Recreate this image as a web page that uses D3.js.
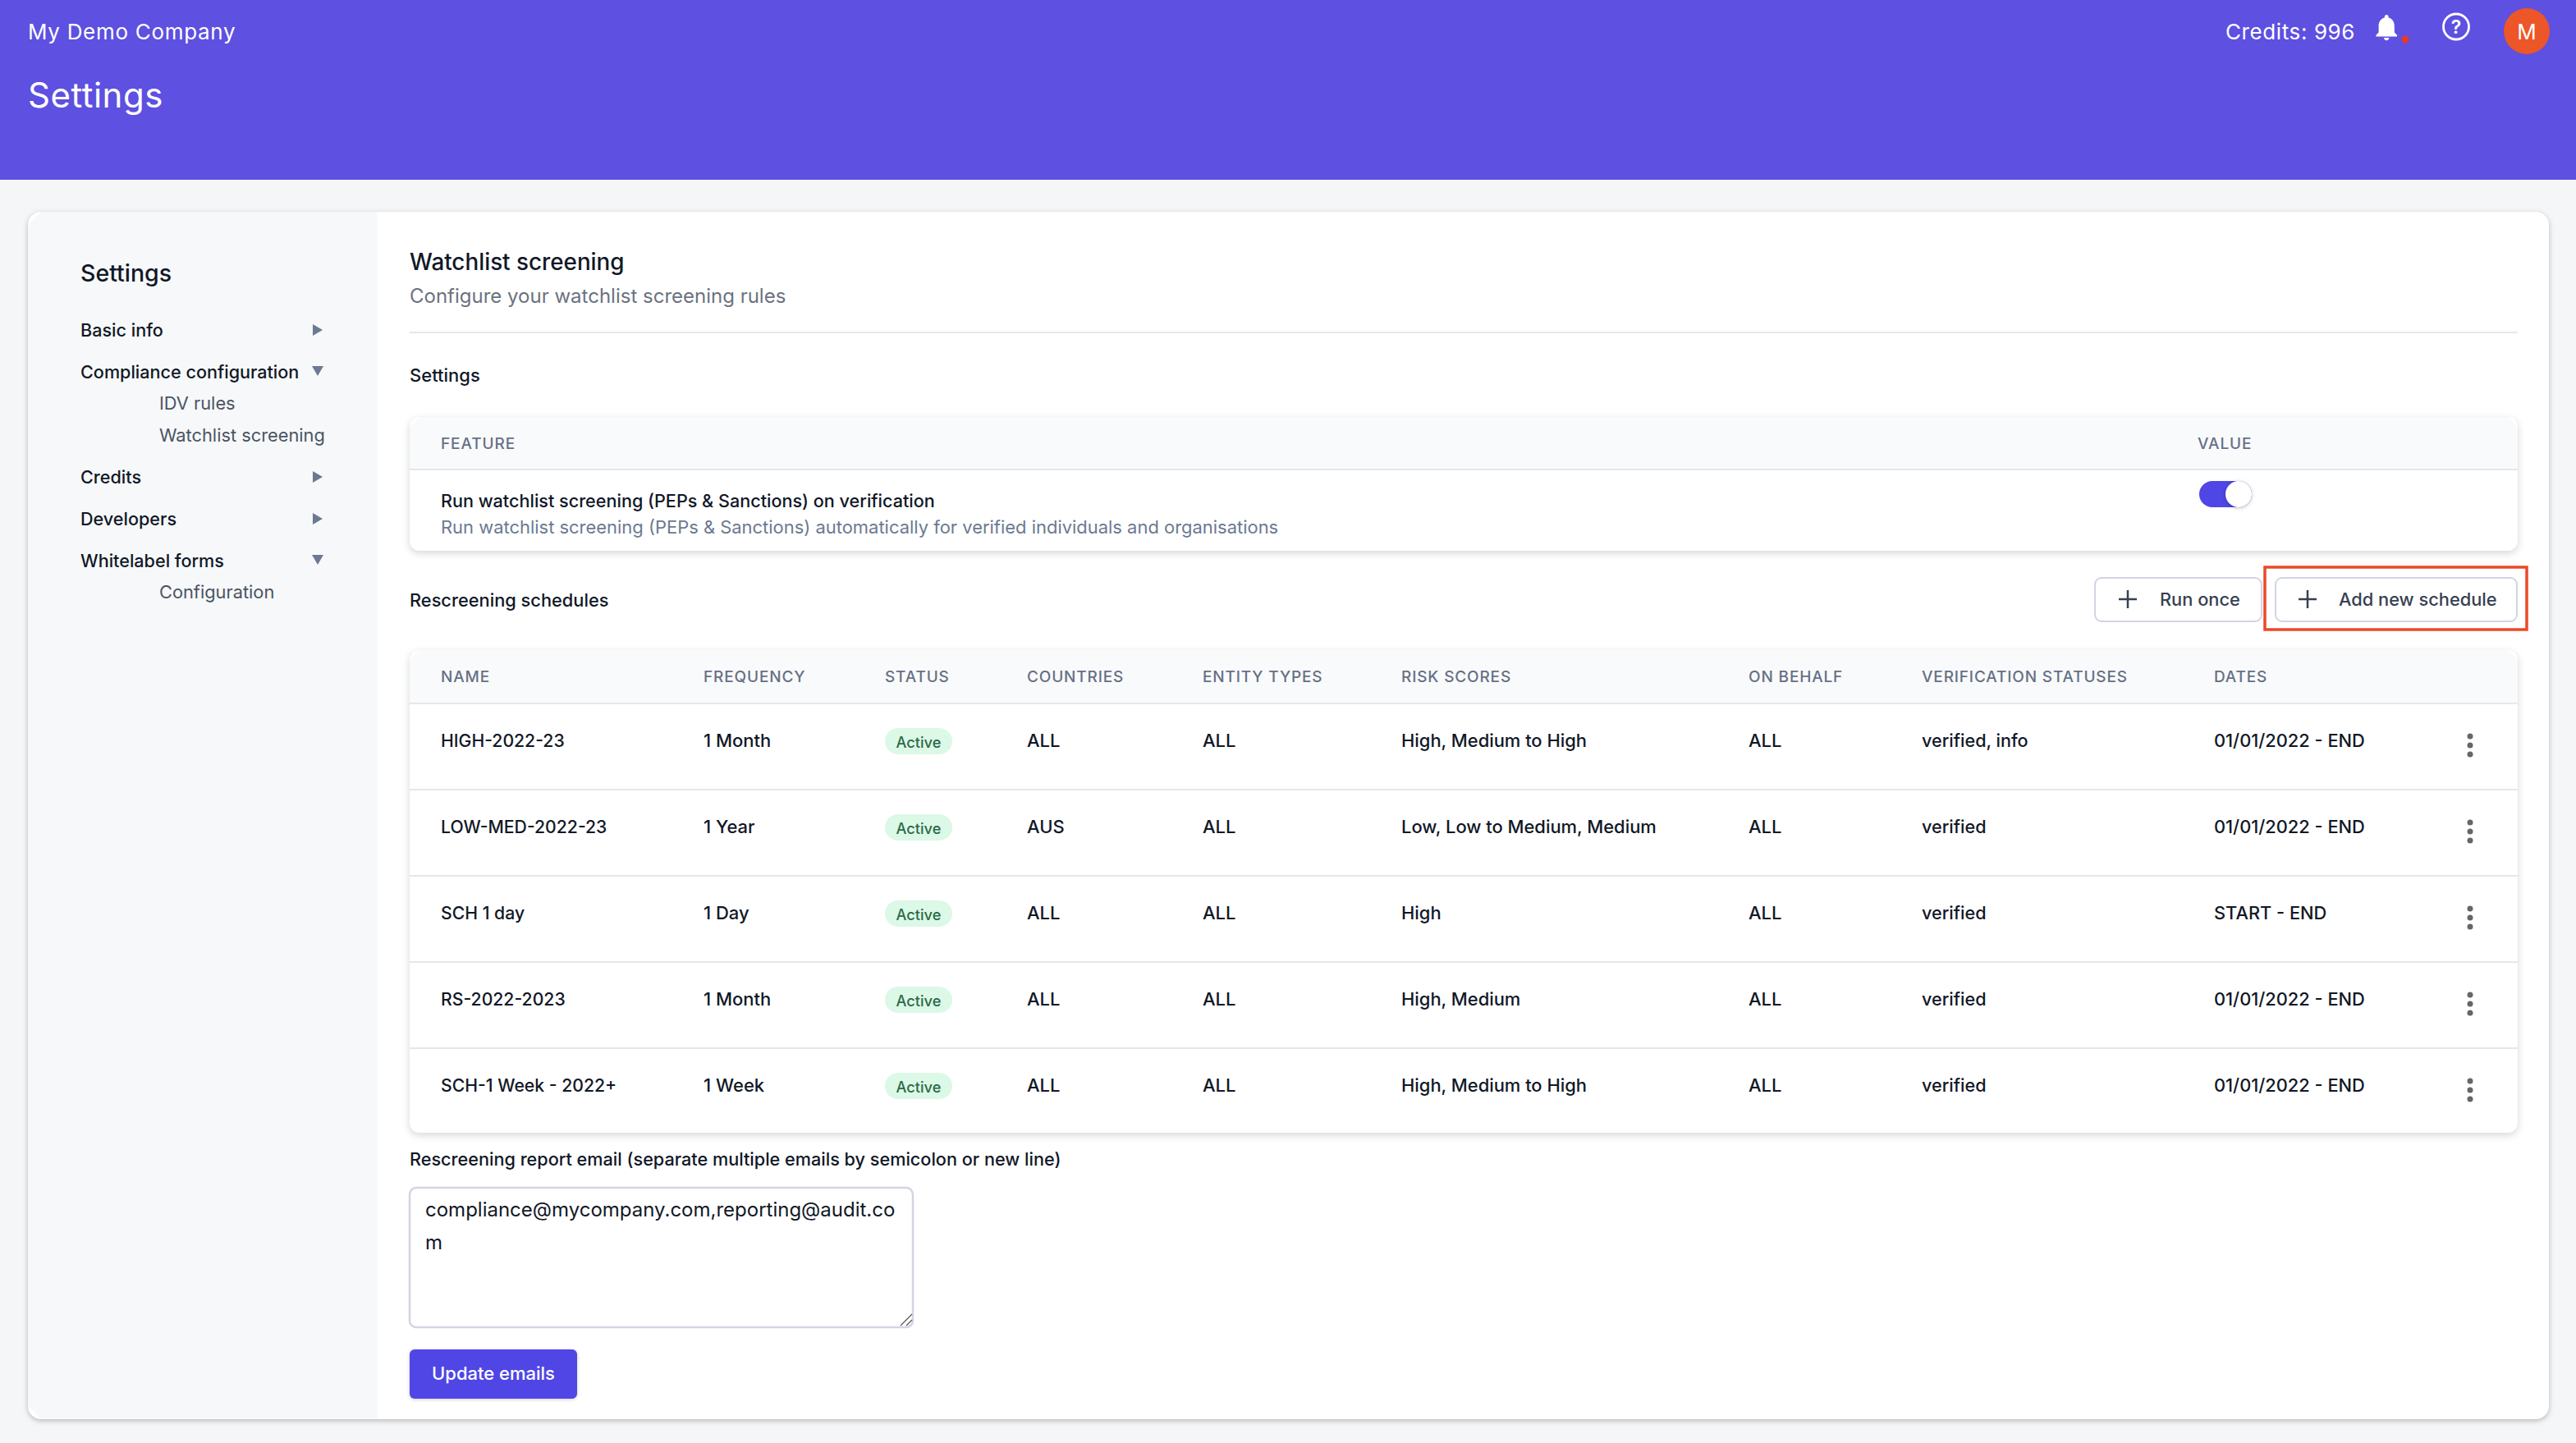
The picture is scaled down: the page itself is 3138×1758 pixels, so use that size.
<!DOCTYPE html>
<html>
<head>
  <script src="https://d3js.org/d3.v7.min.js"></script>
  <style>
    html, body { margin: 0; padding: 0; background: #f5f6f8; }
    svg { display: block; }
    text { font-family: Inter, "Noto Sans", sans-serif; dominant-baseline: central; }
  </style>
</head>
<body>
  <script>
    // Table content
    var columns = ["NAME", "FREQUENCY", "STATUS", "COUNTRIES", "ENTITY TYPES", "RISK SCORES", "ON BEHALF", "VERIFICATION STATUSES", "DATES"];
    var names = ["HIGH-2022-23", "LOW-MED-2022-23", "SCH 1 day", "RS-2022-2023", "SCH-1 Week - 2022+"];
    var frequencies = ["1 Month", "1 Year", "1 Day", "1 Month", "1 Week"];
    var statuses = ["Active", "Active", "Active", "Active", "Active"];
    var countries = ["ALL", "AUS", "ALL", "ALL", "ALL"];
    var entityTypes = ["ALL", "ALL", "ALL", "ALL", "ALL"];
    var riskScores = ["High, Medium to High", "Low, Low to Medium, Medium", "High", "High, Medium", "High, Medium to High"];
    var onBehalf = ["ALL", "ALL", "ALL", "ALL", "ALL"];
    var verification = ["verified, info", "verified", "verified", "verified", "verified"];
    var dates = ["01/01/2022 - END", "01/01/2022 - END", "START - END", "01/01/2022 - END", "01/01/2022 - END"];

    // Sidebar menu
    var menuItems = ["Basic info", "Compliance configuration", "IDV rules", "Watchlist screening", "Credits", "Developers", "Whitelabel forms", "Configuration"];
    var menuLevels = [0, 0, 1, 1, 0, 0, 0, 1];
    var menuOpen = [false, true, null, null, false, false, true, null];
    var menuY = [402, 453, 491, 530, 581, 632, 683, 721];

    var columnX = [537, 857, 1078, 1251, 1465, 1707, 2130, 2341, 2697];

    var x = d3.scaleOrdinal().domain(columns).range(columnX);
    var y = d3.scaleBand().domain(d3.range(names.length)).range([857, 1382]);

    var svg = d3.select("body").append("svg")
      .attr("width", 3138)
      .attr("height", 1758);

    function label(g, tx, ty, s, size, color, weight, spacing) {
      return g.append("text")
        .attr("x", tx)
        .attr("y", ty)
        .attr("font-size", size)
        .attr("font-weight", weight || 400)
        .attr("letter-spacing", spacing || 0)
        .attr("fill", color)
        .text(s);
    }

    // Page background and header
    svg.append("rect").attr("width", 3138).attr("height", 1758).attr("fill", "#f5f6f8");
    svg.append("rect").attr("width", 3138).attr("height", 219).attr("fill", "#5e50e0");
    label(svg, 34, 38, "My Demo Company", 26, "#fff", 400, 0.7);
    label(svg, 34, 115, "Settings", 42, "#fff", 400, 0.5);
    label(svg, 2711, 38, "Credits: 996", 26, "#fff", 400, 0.6);

    // Bell, help and avatar
    svg.append("path")
      .attr("transform", "translate(2888,14) scale(1.6)")
      .attr("fill", "#fff")
      .attr("d", "M12 22c1.1 0 2-.9 2-2h-4c0 1.1.9 2 2 2zm6-6v-5c0-3.07-1.63-5.64-4.5-6.32V4c0-.83-.67-1.5-1.5-1.5s-1.5.67-1.5 1.5v.68C7.64 5.36 6 7.92 6 11v5l-2 2v1h16v-1l-2-2z");
    svg.append("circle").attr("cx", 2930).attr("cy", 48).attr("r", 4.5).attr("fill", "#e53a25");
    svg.append("circle").attr("cx", 2992).attr("cy", 32.5).attr("r", 15.5).attr("fill", "none").attr("stroke", "#fff").attr("stroke-width", 2.8);
    label(svg, 2992, 32.5, "?", 23, "#fff", 600).attr("text-anchor", "middle");
    svg.append("circle").attr("cx", 3078).attr("cy", 38).attr("r", 28).attr("fill", "#ec5628");
    label(svg, 3078, 38, "M", 26, "#fff", 400).attr("text-anchor", "middle");

    // Card with sidebar
    svg.append("rect").attr("x", 34).attr("y", 258).attr("width", 3071).attr("height", 1471).attr("rx", 16)
      .attr("fill", "#fff").style("filter", "drop-shadow(0 2px 3px rgba(0,0,0,0.25))");
    svg.append("path").attr("fill", "#f7f8fa")
      .attr("d", d3.line()([[460, 258], [50, 258], [34, 274], [34, 1713], [50, 1729], [460, 1729]]));

    label(svg, 98, 332, "Settings", 28.5, "#111827", 500);
    menuItems.forEach(function (m, i) {
      var sub = menuLevels[i] === 1;
      label(svg, sub ? 194 : 98, menuY[i], m, sub ? 21.8 : 21.6, sub ? "#4b5563" : "#111827", sub ? 400 : 500);
      if (menuOpen[i] !== null) {
        var a = menuOpen[i];
        svg.append("path").attr("fill", "#6b7a90")
          .attr("transform", "translate(387," + (a ? menuY[i] - 1 : menuY[i]) + ")" + (a ? " rotate(90)" : ""))
          .attr("d", "M-6,-7L6,0L-6,7Z");
      }
    });

    // Title block
    label(svg, 499, 319, "Watchlist screening", 27.8, "#111827", 500);
    label(svg, 499, 360, "Configure your watchlist screening rules", 24, "#6b7280", 400);
    svg.append("line").attr("x1", 499).attr("x2", 3067).attr("y1", 405).attr("y2", 405).attr("stroke", "#e5e7eb").attr("stroke-width", 2);
    label(svg, 499, 457, "Settings", 22, "#111827", 500);

    function panel(top, bottom, headBottom) {
      svg.append("rect").attr("x", 499).attr("y", top).attr("width", 2568).attr("height", bottom - top).attr("rx", 12)
        .attr("fill", "#fff").style("filter", "drop-shadow(0 3px 5px rgba(0,0,0,0.16))");
      svg.append("path").attr("fill", "#f9fafb")
        .attr("d", d3.line()([[499, headBottom], [499, top + 12], [511, top], [3055, top], [3067, top + 12], [3067, headBottom]]));
      svg.append("line").attr("x1", 499).attr("x2", 3067).attr("y1", headBottom).attr("y2", headBottom)
        .attr("stroke", "#e5e7eb").attr("stroke-width", 2);
    }

    // Feature table
    panel(508, 671, 572);
    label(svg, 537, 540, "FEATURE", 19, "#667085", 500, 0.9);
    label(svg, 2677, 540, "VALUE", 19, "#667085", 500, 0.9);
    label(svg, 537, 610, "Run watchlist screening (PEPs & Sanctions) on verification", 21.6, "#111827", 500);
    label(svg, 537, 642, "Run watchlist screening (PEPs & Sanctions) automatically for verified individuals and organisations", 21.95, "#6b7a90", 400);
    svg.append("rect").attr("x", 2679).attr("y", 586).attr("width", 64).attr("height", 32).attr("rx", 16).attr("fill", "#4f46e5");
    svg.append("circle").attr("cx", 2727).attr("cy", 602).attr("r", 16).attr("fill", "#fff")
      .style("filter", "drop-shadow(0 1px 2px rgba(0,0,0,0.25))");

    // Schedules heading and buttons
    label(svg, 499, 731, "Rescreening schedules", 21.8, "#111827", 500);

    function button(x0, x1, plusX, textX, s) {
      svg.append("rect").attr("x", x0).attr("y", 704).attr("width", x1 - x0).attr("height", 53).attr("rx", 8)
        .attr("fill", "#fff").attr("stroke", "#d1d5e4").attr("stroke-width", 2);
      svg.append("path").attr("stroke", "#374151").attr("stroke-width", 2.5).attr("fill", "none")
        .attr("d", "M" + (plusX - 11) + ",730H" + (plusX + 11) + "M" + plusX + ",719V741");
      label(svg, textX, 730, s, 21.8, "#374151", 500);
    }
    button(2552, 2755, 2592, 2631, "Run once");
    button(2772, 3066, 2811, 2849, "Add new schedule");
    svg.append("rect").attr("x", 2759).attr("y", 691).attr("width", 319).attr("height", 76)
      .attr("fill", "none").attr("stroke", "#ea4a27").attr("stroke-width", 3.5);

    // Schedules table
    panel(792, 1380, 857);
    columns.forEach(function (c) {
      label(svg, x(c), 824, c, 19, "#667085", 500, 0.85);
    });

    var rows = svg.selectAll("g.row").data(names).enter().append("g").attr("class", "row");
    rows.each(function (name, i) {
      var g = d3.select(this);
      var top = y(i);
      var cy = top + 45;
      if (i > 0) {
        g.append("line").attr("x1", 499).attr("x2", 3067).attr("y1", top).attr("y2", top)
          .attr("stroke", "#e5e7eb").attr("stroke-width", 2);
      }
      label(g, x("NAME"), cy, name, 21.2, "#111827", 500);
      label(g, x("FREQUENCY"), cy, frequencies[i], 22, "#111827", 500);
      g.append("rect").attr("x", x("STATUS")).attr("y", top + 30).attr("width", 82).attr("height", 32).attr("rx", 16).attr("fill", "#dcf8e7");
      label(g, x("STATUS") + 41, top + 46.5, statuses[i], 18.2, "#2a6a47", 500).attr("text-anchor", "middle");
      label(g, x("COUNTRIES"), cy, countries[i], 22, "#111827", 500);
      label(g, x("ENTITY TYPES"), cy, entityTypes[i], 22, "#111827", 500);
      label(g, x("RISK SCORES"), cy, riskScores[i], 21.9, "#111827", 500);
      label(g, x("ON BEHALF"), cy, onBehalf[i], 22, "#111827", 500);
      label(g, x("VERIFICATION STATUSES"), cy, verification[i], 21.6, "#111827", 500);
      label(g, x("DATES"), cy, dates[i], 21.8, "#111827", 500);
      g.selectAll("circle").data([-11, 0, 11]).enter().append("circle")
        .attr("cx", 3009).attr("cy", function (d) { return top + 51 + d; }).attr("r", 3.5).attr("fill", "#666");
    });

    // Email block
    label(svg, 499, 1412, "Rescreening report email (separate multiple emails by semicolon or new line)", 21.65, "#111827", 500);
    svg.append("rect").attr("x", 499).attr("y", 1447).attr("width", 613).attr("height", 170).attr("rx", 8)
      .attr("fill", "#fff").attr("stroke", "#d1d5e4").attr("stroke-width", 2.5);
    label(svg, 518, 1473, "compliance@mycompany.com,reporting@audit.co", 24, "#111827", 400);
    label(svg, 518, 1513, "m", 24, "#111827", 400);
    svg.append("path").attr("stroke", "#555").attr("stroke-width", 1.2).attr("fill", "none")
      .attr("d", "M1097,1615L1111,1601M1104,1615L1111,1608");
    svg.append("rect").attr("x", 499).attr("y", 1644).attr("width", 204).attr("height", 60).attr("rx", 6)
      .attr("fill", "#4f46e5").style("filter", "drop-shadow(0 1px 2px rgba(0,0,0,0.2))");
    label(svg, 601, 1673, "Update emails", 22, "#fff", 500).attr("text-anchor", "middle");
  </script>
</body>
</html>
